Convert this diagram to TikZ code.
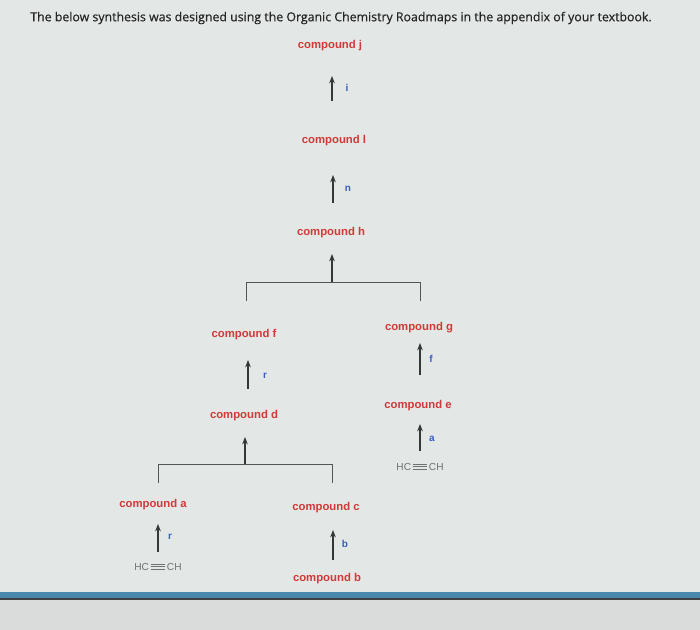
\documentclass[tikz,border=0pt]{standalone}
\usepackage{fontspec}
\setmainfont{Liberation Sans}
\newfontfamily\titlefont[FakeBold=0.5]{Open Sans}
\usetikzlibrary{arrows.meta}
\definecolor{bgc}{HTML}{E3E7E5}
\definecolor{cred}{HTML}{D03A38}
\definecolor{cblue}{HTML}{3A5CC4}
\definecolor{cgray}{HTML}{6E7272}
\definecolor{carrow}{HTML}{353838}
\definecolor{cbar}{HTML}{4A88AE}
\definecolor{cbelow}{HTML}{D9DCDA}
\newcommand\tbond{\hspace{1.2pt}\rlap{\raisebox{1.0pt}{\rule{11pt}{0.45pt}}}\rlap{\raisebox{2.6pt}{\rule{11pt}{0.45pt}}}\raisebox{4.2pt}{\rule{11pt}{0.45pt}}\hspace{1.2pt}}
\tikzset{
  cmpd/.style={text=cred, font=\fontsize{8.5}{10}\selectfont\bfseries, inner sep=1pt},
  rgt/.style={text=cblue, font=\fontsize{7.5}{9}\selectfont\bfseries, inner sep=0.5pt},
  start/.style={text=cgray, font=\fontsize{7.6}{9}\selectfont, inner sep=1pt},
  rxn/.style={draw=carrow, line width=0.9pt, -{Stealth[length=5.5pt,width=4.2pt]}},
  brk/.style={draw=carrow!85, line width=0.6pt},
}
\begin{document}
\begin{tikzpicture}[x=0.75pt,y=-0.75pt]
\useasboundingbox (0,0) rectangle (700,630);
% background
\fill[bgc] (0,0) rectangle (700,592);
\fill[cbar] (0,592) rectangle (700,598);
\fill[black!75] (0,598) rectangle (700,600.5);
\fill[cbelow] (0,600.5) rectangle (700,630);
% title
\node[inner sep=0, text=black!85] (title) at (341,18) {\resizebox{466pt}{!}{\titlefont\fontsize{10}{12}\selectfont The below synthesis was designed using the Organic Chemistry Roadmaps in the appendix of your textbook.}};
% main chain
\node[cmpd] (j) at (330,46) {compound j};
\node[cmpd] (l) at (334,141) {compound l};
\node[cmpd] (h) at (331,233) {compound h};
\coordinate (i0) at (332,101); \coordinate (i1) at (332,76);
\draw[rxn] (i0) -- (i1);
\node[rgt] (li) at (347,88) {i};
\coordinate (n0) at (333,203); \coordinate (n1) at (333,175);
\draw[rxn] (n0) -- (n1);
\node[rgt] (ln) at (348,189) {n};
% upper bracket
\coordinate (ub1) at (246,301); \coordinate (ubl) at (246,282);
\coordinate (ubr) at (420,282); \coordinate (ub2) at (420,301);
\coordinate (ubm) at (332,282); \coordinate (ubt) at (332,254);
\draw[brk] (ub1) -- (ubl) -- (ubr) -- (ub2);
\draw[rxn] (ubm) -- (ubt);
% left branch
\node[cmpd] (f) at (244,335) {compound f};
\node[cmpd] (d) at (244,416) {compound d};
\coordinate (r0) at (248,389); \coordinate (r1) at (248,360);
\draw[rxn] (r0) -- (r1);
\node[rgt] (lr) at (265,376) {r};
% right branch
\node[cmpd] (g) at (419,328) {compound g};
\node[cmpd] (e) at (418,406) {compound e};
\node[start] (hc1) at (420,467) {HC\tbond CH};
\coordinate (f0) at (420,375); \coordinate (f1) at (420,343);
\draw[rxn] (f0) -- (f1);
\node[rgt] (lf) at (431,359) {f};
\coordinate (a0) at (420,451); \coordinate (a1) at (420,424);
\draw[rxn] (a0) -- (a1);
\node[rgt] (la) at (432,439) {a};
% lower bracket
\coordinate (lb1) at (158,483); \coordinate (lbl) at (158,464);
\coordinate (lbr) at (332,464); \coordinate (lb2) at (332,483);
\coordinate (lbm) at (245,464); \coordinate (lbt) at (245,437);
\draw[brk] (lb1) -- (lbl) -- (lbr) -- (lb2);
\draw[rxn] (lbm) -- (lbt);
% bottom left
\node[cmpd] (a) at (153,505) {compound a};
\node[start] (hc2) at (158,567) {HC\tbond CH};
\coordinate (ra0) at (158,552); \coordinate (ra1) at (158,524);
\draw[rxn] (ra0) -- (ra1);
\node[rgt] (lra) at (170,537) {r};
% bottom right
\node[cmpd] (c) at (326,508) {compound c};
\node[cmpd] (b) at (327,579) {compound b};
\coordinate (b0) at (333,560); \coordinate (b1) at (333,530);
\draw[rxn] (b0) -- (b1);
\node[rgt] (lb) at (345,544) {b};
\end{tikzpicture}
\end{document}
